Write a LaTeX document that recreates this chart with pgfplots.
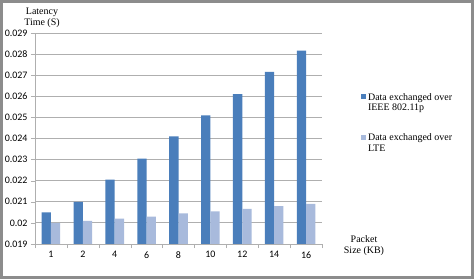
\documentclass[border=0pt]{standalone}
\usepackage{fontspec}
\setmainfont{Liberation Serif}
\newfontfamily\tickfont{Carlito}
\usepackage{pgfplots}
\pgfplotsset{compat=1.18}
\definecolor{barblue}{RGB}{74,126,187}
\definecolor{barlight}{RGB}{168,186,220}
\definecolor{gridgray}{RGB}{175,175,175}
\definecolor{framegray}{RGB}{140,140,140}
\begin{document}
\begin{tikzpicture}
\useasboundingbox (0,0) rectangle (474bp,279bp);
\fill[white] (0,0) rectangle (474bp,279bp);
\draw[framegray, line width=3bp] (1.5bp,1.5bp) rectangle (472.5bp,277.5bp);
\begin{axis}[
  at={(35bp,35bp)}, anchor=south west,
  scale only axis, width=287bp, height=211bp,
  ybar=0pt, bar width=9.3bp,
  xmin=-0.5, xmax=8.5, ymin=0.019, ymax=0.029,
  xtick={0,...,8},
  xticklabels={1,2,4,6,8,10,12,14,16},
  minor xtick={-0.5,0.5,...,8.5},
  ytick={0.019,0.020,...,0.0295},
  scaled y ticks=false,
  yticklabel style={/pgf/number format/fixed, /pgf/number format/precision=3},
  /pgf/number format/assume math mode=true,
  tick label style={font=\tickfont\fontsize{10}{12}\selectfont, text=black},
  axis x line*=bottom, axis y line*=left,
  axis line style={gridgray, -},
  tick align=outside,
  major tick length=4bp, minor tick length=4bp,
  xtick style={draw=none},
  minor x tick style={draw=gridgray},
  ytick style={draw=gridgray},
  ymajorgrids, grid style={gridgray, line width=0.8bp},
  legend style={at={(1.125,0.735)}, anchor=north west, draw=none, fill=none,
    font=\fontsize{10}{11}\selectfont, nodes={align=left}, row sep=17bp},
  legend cell align=left,
  legend image code/.code={\fill[#1] (0bp,3.5bp) rectangle (5bp,8.5bp);},
]
\addplot[fill=barblue, draw=none] coordinates {
 (0,0.0205) (1,0.0210) (2,0.02205) (3,0.02305) (4,0.0241)
 (5,0.0251) (6,0.0261) (7,0.02716) (8,0.02817)};
\addlegendentry{Data exchanged over\\IEEE 802.11p}
\addplot[fill=barlight, draw=none] coordinates {
 (0,0.0200) (1,0.0201) (2,0.0202) (3,0.0203) (4,0.02045)
 (5,0.02055) (6,0.02066) (7,0.0208) (8,0.0209)};
\addlegendentry{Data exchanged over\\LTE}
\end{axis}
\node[align=center, font=\fontsize{10}{11}\selectfont] at (42bp,261bp) {Latency\\Time (S)};
\node[align=center, font=\fontsize{10}{11}\selectfont] at (364bp,33bp) {Packet\\Size (KB)};
\end{tikzpicture}
\end{document}
